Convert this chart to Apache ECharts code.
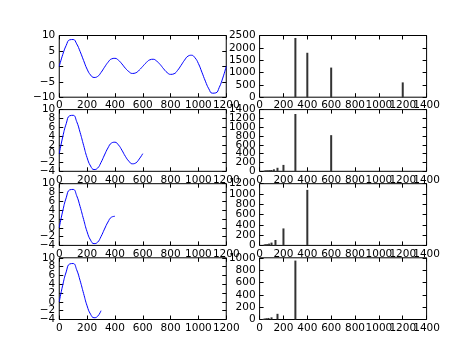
<!DOCTYPE html>
<html>
<head>
<meta charset="utf-8">
<script src="https://cdn.jsdelivr.net/npm/echarts@6/dist/echarts.min.js"></script>
<style>
  html, body { margin: 0; padding: 0; background: #fff; }
  #chart { width: 474px; height: 355px; }
</style>
</head>
<body>
<div id="chart"></div>
<script>
// sample positions and signal values
const sampleT = [0, 25, 50, 75, 100, 125, 150, 175, 200, 225, 250, 275, 300, 325, 350, 375, 400,
  425, 450, 475, 500, 525, 550, 575, 600, 625, 650, 675, 700, 725, 750, 775, 800, 825, 850, 875,
  900, 925, 950, 975, 1000, 1025, 1050, 1075, 1100, 1125, 1150, 1175, 1200]
const signal = [0, 3.8, 6.8, 8.6, 8.7, 7.3, 4.8, 1.9, -0.9, -2.8, -3.6, -3.3, -2.0, -0.3, 1.3, 2.4, 2.6,
  2.0, 0.8, -0.6, -1.7, -2.3, -2.1, -1.2, 0, 1.2, 2.1, 2.3, 1.7, 0.6, -0.8, -2.0, -2.6, -2.4, -1.3, 0.3,
  2.0, 3.3, 3.6, 2.8, 0.9, -1.9, -4.8, -7.3, -8.7, -8.6, -6.8, -3.8, 0]
// how many samples each row keeps
const windowLengths = [1200, 600, 400, 300]

// spectrum spikes per row (period, magnitude)
const periods1 = [1200, 600, 400, 300]
const mags1 = [600, 1200, 1800, 2400]
const periods2 = [600, 300, 200, 150, 120, 100, 86, 75, 67, 60, 55, 50, 46, 43, 40]
const mags2 = [820, 1300, 145, 80, 45, 30, 25, 20, 18, 15, 14, 12, 11, 10, 10]
const periods3 = [400, 200, 133, 100, 80, 67, 57, 50, 44, 40]
const mags3 = [1080, 330, 105, 55, 35, 25, 20, 18, 15, 12]
const periods4 = [300, 150, 100, 75, 60, 50, 43, 38, 33, 30]
const mags4 = [955, 92, 35, 25, 20, 15, 12, 10, 10, 8]

const leftYMin = [-10, -4, -4, -4]
const leftYMax = [10, 10, 10, 10]
const leftYStep = [5, 2, 2, 2]
const rightYMax = [2500, 1400, 1200, 1000]
const rightYStep = [500, 200, 200, 200]

const specPeriods = [periods1, periods2, periods3, periods4]
const specMags = [mags1, mags2, mags3, mags4]

const font = { fontFamily: 'DejaVu Sans', fontSize: 10.5, color: '#000' }
const minus = v => String(v).replace('-', '\u2212')

const rowTops = [35.5, 109.6, 183.7, 257.8]
const rowH = 61.7
const colLefts = [59.25, 259.6]
const colW = 167

const grid = []
const xAxis = []
const yAxis = []
const series = []

// echarts drops labels that collide, so every panel gets a second, empty
// grid on top carrying the odd-numbered tick labels
function labelsFor(min, step, odd) {
  return v => {
    const k = Math.round((v - min) / step)
    return (k % 2 === 1) === odd ? minus(v) : ''
  }
}

function addPanel(left, top, xmin, xmax, xstep, ymin, ymax, ystep) {
  const tick = { show: true, inside: true, length: 4, lineStyle: { color: '#000', width: 1 } }
  const noLine = { show: false, onZero: false }
  const rect = { left, top, width: colW, height: rowH }

  const gi = grid.length
  grid.push(Object.assign({ show: true, borderColor: '#000', borderWidth: 1,
    backgroundColor: 'transparent' }, rect))
  grid.push(Object.assign({ show: false }, rect))

  const xi = xAxis.length
  xAxis.push({
    type: 'value', gridIndex: gi, position: 'bottom', min: xmin, max: xmax, interval: xstep,
    axisLine: noLine, axisTick: tick, splitLine: { show: false },
    axisLabel: Object.assign({ margin: 3, formatter: labelsFor(xmin, xstep, false),
      showMinLabel: true, showMaxLabel: true }, font)
  })
  xAxis.push({
    type: 'value', gridIndex: gi, position: 'top', min: xmin, max: xmax, interval: xstep,
    axisLine: noLine, axisTick: tick, splitLine: { show: false }, axisLabel: { show: false }
  })
  xAxis.push({
    type: 'value', gridIndex: gi + 1, position: 'bottom', min: xmin, max: xmax, interval: xstep,
    axisLine: noLine, axisTick: { show: false }, splitLine: { show: false },
    axisLabel: Object.assign({ margin: 3, formatter: labelsFor(xmin, xstep, true),
      showMinLabel: true, showMaxLabel: true }, font)
  })

  const yi = yAxis.length
  yAxis.push({
    type: 'value', gridIndex: gi, position: 'left', min: ymin, max: ymax, interval: ystep,
    axisLine: noLine, axisTick: tick, splitLine: { show: false },
    axisLabel: Object.assign({ margin: 4, formatter: labelsFor(ymin, ystep, false),
      showMinLabel: true, showMaxLabel: true }, font)
  })
  yAxis.push({
    type: 'value', gridIndex: gi, position: 'right', min: ymin, max: ymax, interval: ystep,
    axisLine: noLine, axisTick: tick, splitLine: { show: false }, axisLabel: { show: false }
  })
  yAxis.push({
    type: 'value', gridIndex: gi + 1, position: 'left', min: ymin, max: ymax, interval: ystep,
    axisLine: noLine, axisTick: { show: false }, splitLine: { show: false },
    axisLabel: Object.assign({ margin: 4, formatter: labelsFor(ymin, ystep, true),
      showMinLabel: true, showMaxLabel: true }, font)
  })
  return [xi, yi]
}

for (let r = 0; r < 4; r++) {
  // left: time signal
  let [xi, yi] = addPanel(colLefts[0], rowTops[r], 0, 1200, 200, leftYMin[r], leftYMax[r], leftYStep[r])
  const pts = []
  sampleT.forEach((t, k) => { if (t <= windowLengths[r]) pts.push([t, signal[k]]) })
  series.push({
    type: 'line', xAxisIndex: xi, yAxisIndex: yi, data: pts, smooth: true,
    showSymbol: false, lineStyle: { color: '#0000ff', width: 1 }
  })

  // right: spectrum spikes
  ;[xi, yi] = addPanel(colLefts[1], rowTops[r], 0, 1400, 200, 0, rightYMax[r], rightYStep[r])
  series.push({
    type: 'bar', xAxisIndex: xi, yAxisIndex: yi, barWidth: 2,
    data: specPeriods[r].map((p, k) => [p, specMags[r][k]]),
    itemStyle: { color: '#333' }
  })
}

const chart = echarts.init(document.getElementById('chart'))
chart.setOption({
  animation: false,
  backgroundColor: '#fff',
  grid, xAxis, yAxis, series
})
</script>
</body>
</html>
